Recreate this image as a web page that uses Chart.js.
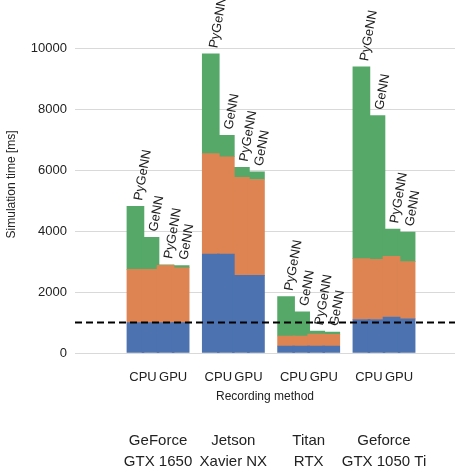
<!DOCTYPE html>
<html><head><meta charset="utf-8">
<script src="https://cdn.jsdelivr.net/npm/chart.js@4/dist/chart.umd.min.js"></script>
<style>html,body{margin:0;background:#fff}#c{width:474px;height:474px}</style>
</head><body><div id="c"><canvas id="chart"></canvas></div>
<script>
// slot positions: 4 bars per GPU, one empty slot between GPUs
var slots = [0,1,2,3, 5,6,7,8, 10,11,12,13, 15,16,17,18];
var barNames = ['PyGeNN','GeNN','PyGeNN','GeNN','PyGeNN','GeNN','PyGeNN','GeNN','PyGeNN','GeNN','PyGeNN','GeNN','PyGeNN','GeNN','PyGeNN','GeNN'];
var blueTop   = [1000,1000,1000,1000, 3250,3250,2550,2550, 230,230,230,230, 1100,1100,1180,1120];
var orangeTop = [2750,2750,2880,2800, 6550,6450,5770,5700, 560,560,620,610, 3100,3080,3180,3000];
var totals    = [4820,3800,2900,2870, 9830,7150,6100,5950, 1850,1350,720,690, 9400,7800,4070,3970];
var gpuNames = [['GeForce','GTX 1650'],['Jetson','Xavier NX'],['Titan','RTX'],['Geforce','GTX 1050 Ti']];
var yTicks = [0,2000,4000,6000,8000,10000];

function pts(arr, base) {
    var out = [];
    for (var i = 0; i < slots.length; i++) {
        out.push({x: slots[i], y: arr[i] - (base ? base[i] : 0)});
    }
    return out;
}

var font = "'Liberation Sans', Arial, sans-serif";
var extras = {
    id: 'extras',
    afterDatasetsDraw: function (chart) {
        var ctx = chart.ctx, xs = chart.scales.x, ys = chart.scales.y, area = chart.chartArea;
        ctx.save();
        // dashed line at 1000
        ctx.strokeStyle = '#000'; ctx.lineWidth = 2; ctx.setLineDash([7,4]);
        ctx.beginPath(); ctx.moveTo(area.left, ys.getPixelForValue(1000)); ctx.lineTo(area.right, ys.getPixelForValue(1000)); ctx.stroke();
        ctx.setLineDash([]);
        ctx.fillStyle = '#222';
        ctx.font = '13px ' + font;
        // labels above bars
        for (var i = 0; i < slots.length; i++) {
            ctx.save();
            ctx.translate(xs.getPixelForValue(slots[i]) + 3, ys.getPixelForValue(totals[i]) - 6);
            ctx.rotate(-80 * Math.PI / 180);
            ctx.textAlign = 'left'; ctx.textBaseline = 'middle';
            ctx.fillText(barNames[i], 0, 0);
            ctx.restore();
        }
        ctx.textAlign = 'center'; ctx.textBaseline = 'middle';
        for (var g = 0; g < 4; g++) {
            var s = g * 5;
            ctx.font = '13px ' + font;
            ctx.fillText('CPU', xs.getPixelForValue(s + 0.5), 377);
            ctx.fillText('GPU', xs.getPixelForValue(s + 2.5), 377);
            ctx.font = '15px ' + font;
            var cx = xs.getPixelForValue(s + 1.5);
            ctx.fillText(gpuNames[g][0], cx, 441);
            ctx.fillText(gpuNames[g][1], cx, 462);
        }
        ctx.font = '12px ' + font;
        ctx.fillText('Recording method', (area.left + area.right) / 2, 397);
        ctx.restore();
    }
};

new Chart(document.getElementById('chart'), {
    type: 'bar',
    data: {
        datasets: [
            {data: pts(blueTop), backgroundColor: '#4c72b0'},
            {data: pts(orangeTop, blueTop), backgroundColor: '#dd8452'},
            {data: pts(totals, orangeTop), backgroundColor: '#55a868'}
        ]
    },
    options: {
        responsive: true, maintainAspectRatio: false, animation: false,
        layout: {padding: {top: 0, right: 19, bottom: 113, left: 0}},
        plugins: {legend: {display: false}, tooltip: {enabled: false}},
        datasets: {bar: {barThickness: 17, grouped: false}},
        scales: {
            x: {type: 'linear', stacked: true, min: -1.49, max: 18.69,
                ticks: {display: false}, grid: {display: false}, border: {display: false}},
            y: {stacked: true, min: 0, max: 11080,
                afterFit: function (ax) { ax.width = 75; },
                afterBuildTicks: function (ax) { ax.ticks = yTicks.map(function (v) { return {value: v}; }); },
                ticks: {color: '#222', font: {size: 13, family: font}, padding: 8,
                    callback: function (v) { return String(v); }},
                grid: {color: '#d9d9d9', drawTicks: false}, border: {display: false},
                title: {display: true, text: 'Simulation time [ms]', color: '#222', font: {size: 12, family: font}}}
        }
    },
    plugins: [extras]
});
</script></body></html>
